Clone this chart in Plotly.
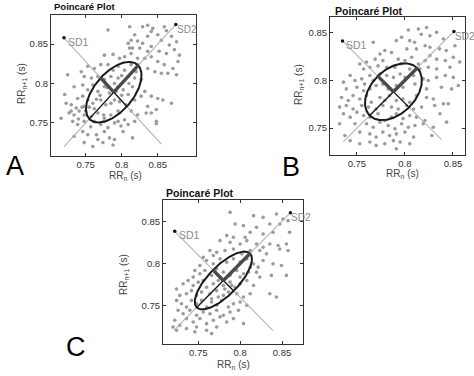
import numpy as np
import plotly.graph_objects as go

W, H = 474, 376
FONT = "Liberation Sans, Arial, sans-serif"

# ---------------- Panel A data (RR_n, RR_n+1 in seconds) ----------------
A_RRn = [0.781,0.811,0.829,0.836,0.843,0.859,0.862,0.841,0.818,0.813,0.822,0.829,0.809,0.836,0.850,0.855,0.866,0.876,0.869,
         0.811,0.815,0.825,0.841,0.836,0.852,0.862,0.873,0.880,
         0.776,0.788,0.797,0.804,0.813,0.822,0.832,0.841,0.850,0.859,0.871,0.878,
         0.753,0.762,0.771,0.781,0.788,0.795,0.804,0.813,0.822,0.836,0.846,0.855,0.864,0.876,
         0.725,0.744,0.748,0.758,0.767,0.776,0.785,0.795,0.809,0.818,0.827,
         0.721,0.734,0.746,0.753,0.760,0.767,0.776,0.783,0.795,0.802,0.809,0.815,0.832,0.841,0.850,0.857,0.869,
         0.739,0.746,0.753,0.760,0.771,0.778,0.790,0.797,0.806,0.818,0.827,0.836,0.848,
         0.730,0.723,0.737,0.748,
         0.716,0.727,0.734,0.741,0.748,0.758,0.767,0.776,0.785,0.795,0.804,0.813,0.822,0.834,0.841,0.848,0.848,
         0.732,0.739,0.748,0.762,0.771,0.781,0.790,0.799,0.809,0.818,
         0.734,0.746,0.753,0.765,0.776,0.783,0.790,0.802,0.815,
         0.748,0.767,0.774,0.788,0.760,
         0.745,0.750,0.755,0.762,0.770,0.780,0.790,0.792,0.785,0.775,0.765,0.800,0.810,0.730,0.740,0.757,0.775,0.795,0.800,0.820]
A_RRn1 = [0.868,0.872,0.872,0.874,0.870,0.872,0.867,0.866,0.862,0.855,0.854,0.851,0.851,0.860,0.862,0.855,0.849,0.853,0.860,
          0.845,0.845,0.845,0.847,0.841,0.841,0.838,0.843,0.836,
          0.836,0.837,0.832,0.834,0.838,0.832,0.832,0.834,0.828,0.824,0.819,0.828,
          0.822,0.819,0.824,0.824,0.817,0.822,0.817,0.824,0.824,0.819,0.815,0.813,0.813,0.811,
          0.811,0.815,0.809,0.807,0.809,0.805,0.809,0.807,0.809,0.807,0.805,
          0.786,0.796,0.798,0.792,0.798,0.790,0.796,0.788,0.796,0.792,0.786,0.796,0.790,0.784,0.781,0.779,0.775,
          0.781,0.784,0.779,0.775,0.779,0.773,0.779,0.777,0.773,0.779,0.784,0.771,0.767,
          0.773,0.775,0.769,0.771,
          0.756,0.7625,0.760,0.765,0.760,0.758,0.7625,0.756,0.760,0.752,0.754,0.765,0.760,0.7625,0.7625,0.752,0.749,
          0.752,0.748,0.752,0.752,0.748,0.744,0.750,0.746,0.748,0.752,
          0.733,0.739,0.735,0.735,0.739,0.731,0.729,0.739,0.731,
          0.725,0.729,0.725,0.722,0.720,
          0.770,0.765,0.770,0.768,0.785,0.795,0.800,0.790,0.775,0.760,0.780,0.810,0.800,0.765,0.755,0.745,0.752,0.765,0.785,0.815]

# ---------------- Panel B data ----------------
B_RRn = [0.8035,0.814,0.8225,0.767,0.791,0.7965,0.805,0.810,0.817,0.826,0.833,0.840,0.821,0.802,0.812,0.826,0.836,0.843,0.852,0.779,
         0.753,0.760,0.769,0.774,0.777,0.786,0.793,0.800,0.807,0.814,0.821,0.826,0.833,0.842,0.8503,0.857,
         0.757,0.7635,0.772,0.781,0.7896,0.7965,0.805,0.8156,0.8243,0.833,0.8468,
         0.736,0.743,0.748,0.755,0.758,0.7635,0.767,0.774,0.781,0.788,0.795,0.800,0.809,0.819,0.8243,0.833,0.842,0.8503,0.8555,
         0.739,0.750,0.757,0.7635,0.770,0.777,0.7826,0.791,0.798,0.8104,0.8225,0.838,0.8486,
         0.734,0.741,0.746,0.753,0.760,0.765,0.774,0.779,0.784,0.791,0.798,0.805,0.812,0.8225,0.8295,0.840,
         0.732,0.739,0.746,0.755,0.762,0.770,0.777,0.786,0.793,0.8017,0.809,0.8173,0.831,0.845,
         0.736,0.743,0.750,0.757,0.7635,0.772,0.779,0.786,0.791,0.798,0.805,0.812,0.8208,0.8364,
         0.732,0.748,0.760,0.767,0.774,0.7826,0.7896,0.7965,0.8035,0.8104,0.819,0.8295,0.8433,
         0.7375,0.753,0.7635,0.770,0.777,0.784,0.791,0.800,0.809,
         0.7635,0.770,0.779,0.788,0.795,0.805,0.753,0.743,0.791,0.828]
B_RRn1 = [0.8524,0.8535,0.855,0.8396,0.8413,0.8448,0.8413,0.8396,0.848,0.8465,0.850,0.843,0.836,0.8327,0.8327,0.8344,0.8327,0.831,0.836,0.831,
          0.817,0.819,0.822,0.8274,0.8205,0.829,0.822,0.8205,0.824,0.817,0.8205,0.8257,0.822,0.8205,0.824,0.819,
          0.8118,0.8135,0.815,0.8135,0.8135,0.817,0.8118,0.8118,0.8135,0.8118,0.8135,
          0.798,0.805,0.7997,0.8014,0.796,0.805,0.7997,0.8066,0.805,0.803,0.8066,0.803,0.805,0.8014,0.7997,0.803,0.805,0.803,0.7945,
          0.791,0.7927,0.789,0.791,0.7945,0.796,0.791,0.7945,0.7927,0.796,0.791,0.7927,0.791,
          0.782,0.7788,0.784,0.7805,0.784,0.777,0.782,0.7788,0.784,0.7788,0.7805,0.777,0.784,0.782,0.7805,0.7754,
          0.772,0.7737,0.770,0.7737,0.772,0.770,0.7737,0.772,0.770,0.7737,0.770,0.772,0.7737,0.7754,
          0.765,0.7615,0.7667,0.7632,0.7615,0.765,0.758,0.7615,0.765,0.760,0.7632,0.7615,0.758,0.765,
          0.7546,0.7546,0.7546,0.751,0.7563,0.7528,0.7493,0.7546,0.751,0.7528,0.7546,0.751,0.7563,
          0.7424,0.7459,0.744,0.7407,0.7459,0.7424,0.744,0.7459,0.7407,
          0.7355,0.732,0.7337,0.737,0.7355,0.7337,0.7337,0.737,0.7285,0.7424]

# ---------------- Panel C data ----------------
C_RRn = [0.788,0.816,0.8274,0.8433,0.8512,0.794,0.804,0.8195,0.8354,0.8473,0.8572,0.859,0.812,0.8274,0.8393,0.784,0.792,0.806,
         0.776,0.788,0.800,0.808,0.8195,0.8274,0.8354,0.8453,0.8552,0.764,0.772,0.782,0.792,0.802,0.812,0.8235,0.8314,0.8473,0.8572,0.756,0.768,
         0.746,0.752,0.760,0.768,0.776,0.784,0.792,0.800,0.808,0.816,0.8215,0.8274,0.8393,0.8493,0.8552,0.8373,0.744,0.752,0.758,0.766,0.772,0.780,0.788,0.796,0.804,0.812,0.8195,
         0.7242,0.732,0.738,0.744,0.750,0.756,0.760,0.768,0.774,0.780,0.788,0.794,0.800,0.808,0.816,0.8235,0.8354,0.8433,0.728,0.736,0.742,0.748,0.754,0.764,0.772,0.780,0.786,0.796,0.804,0.812,
         0.7242,0.730,0.736,0.742,0.748,0.754,0.760,0.766,0.772,0.778,0.786,0.792,0.800,0.808,0.732,0.740,0.748,0.756,0.764,0.772,0.780,0.788,0.798,0.726,
         0.722,0.728,0.736,0.744,0.752,0.760,0.768,0.776,0.784,0.792,0.7242,0.736,0.748,0.760,0.772,0.804,0.720,0.746,0.766,
         0.7817,0.790,0.774,0.766,0.800,0.810]
C_RRn1 = [0.8604,0.8565,0.8545,0.8584,0.8525,0.8467,0.8447,0.8427,0.8467,0.8467,0.8506,0.8369,0.8369,0.8349,0.8369,0.833,0.831,0.831,
          0.827,0.825,0.8231,0.827,0.8231,0.8192,0.8231,0.8212,0.8231,0.8153,0.8133,0.8153,0.8172,0.8114,0.8153,0.8153,0.8114,0.8172,0.8153,0.8075,0.8094,
          0.7918,0.7977,0.8035,0.7996,0.8055,0.8016,0.8055,0.8016,0.8055,0.7996,0.7957,0.8035,0.7996,0.7977,0.786,0.786,0.784,0.7879,0.7918,0.786,0.7937,0.7898,0.786,0.7918,0.7879,0.7957,0.7898,
          0.770,0.776,0.780,0.774,0.778,0.780,0.772,0.776,0.780,0.774,0.778,0.772,0.776,0.780,0.774,0.784,0.7644,0.7604,0.7624,0.7644,0.768,0.7624,0.7663,0.7644,0.768,0.7624,0.7663,0.7644,0.7604,0.7644,
          0.7565,0.7526,0.7487,0.7565,0.7526,0.7565,0.7487,0.7546,0.7507,0.7565,0.7487,0.7526,0.7546,0.7507,0.7408,0.7448,0.7389,0.7428,0.7408,0.7448,0.7389,0.7428,0.7448,0.7448,
          0.733,0.727,0.735,0.731,0.735,0.729,0.733,0.737,0.731,0.735,0.7213,0.7232,0.725,0.7213,0.725,0.729,0.725,0.7193,0.7173,
          0.770,0.774,0.7604,0.7585,0.784,0.7898]

# ---------------- Poincaré descriptors ----------------
CENTERS = [0.789, 0.788, 0.780]          # mean RR (ellipse centre, on identity line)
SD1 = [0.0257, 0.023, 0.0175]
SD2 = [0.048, 0.035, 0.045]
IDENTITY = [(0.720, 0.875), (0.736, 0.851), (0.721, 0.860)]   # identity line extent (end = SD2 label point)
PERP_X = [(0.720, 0.855), (0.735, 0.838), (0.722, 0.839)]     # perpendicular line extent (start = SD1 label point)

X_RANGES = [(0.702, 0.903), (0.722, 0.8625), (0.708, 0.875)]
Y_RANGES = [(0.708, 0.887), (0.722, 0.866), (0.705, 0.875)]
TICKS = [0.75, 0.8, 0.85]
TICK_TEXT = ["0.75", "0.8", "0.85"]
LETTERS = ["A", "B", "C"]
TITLE = "Poincaré Plot"

# layout positions (pixels in the 474x376 canvas)
BOX_PX = [(51, 196, 15, 156), (330, 465, 17, 155), (163, 303, 200, 344)]
TITLE_PX = [(52, 7), (333, 11), (164, 193)]
TITLE_SIZE = [9.5, 10.5, 10.5]
XT_PX = [(125, 176), (402, 174), (233, 365)]
YT_PX = [(22, 84), (299, 85), (124, 275)]
LETTER_PX = [(15, 166), (291, 167), (76, 347)]

data = [(A_RRn, A_RRn1), (B_RRn, B_RRn1), (C_RRn, C_RRn1)]


def px_x(p):
    return p / W


def px_y(p):
    return 1 - p / H


fig = go.Figure()
annotations = []
s2 = np.sqrt(2)

for i in range(3):
    sfx = "" if i == 0 else str(i + 1)
    xa, ya = "x" + sfx, "y" + sfx
    rx, ry = data[i]
    c, d1, d2 = CENTERS[i], SD1[i], SD2[i]

    fig.add_trace(go.Scatter(x=rx, y=ry, mode="markers", xaxis=xa, yaxis=ya,
                             marker=dict(size=3.6, color="#9b9b9b"), hoverinfo="skip", showlegend=False))
    lo, hi = IDENTITY[i]
    fig.add_trace(go.Scatter(x=[lo, hi], y=[lo, hi], mode="lines", xaxis=xa, yaxis=ya,
                             line=dict(color="#b4b4b4", width=1.1), showlegend=False, hoverinfo="skip"))
    p0, p1 = PERP_X[i]
    fig.add_trace(go.Scatter(x=[p0, p1], y=[2 * c - p0, 2 * c - p1], mode="lines", xaxis=xa, yaxis=ya,
                             line=dict(color="#b4b4b4", width=1.1), showlegend=False, hoverinfo="skip"))
    # ellipse
    t = np.linspace(0, 2 * np.pi, 241)
    u, v = d2 * np.cos(t), d1 * np.sin(t)
    fig.add_trace(go.Scatter(x=c + (u - v) / s2, y=c + (u + v) / s2, mode="lines", xaxis=xa, yaxis=ya,
                             line=dict(color="#1a1a1a", width=2), showlegend=False, hoverinfo="skip"))
    a2, a1 = d2 / s2, d1 / s2
    # thin full axes of the ellipse
    fig.add_trace(go.Scatter(x=[c - a2, c + a2, None, c - a1, c + a1],
                             y=[c - a2, c + a2, None, c + a1, c - a1], mode="lines", xaxis=xa, yaxis=ya,
                             line=dict(color="#1a1a1a", width=1.3), showlegend=False, hoverinfo="skip"))
    # thick SD segments
    fig.add_trace(go.Scatter(x=[c, c + a2, None, c, c - a1],
                             y=[c, c + a2, None, c, c + a1], mode="lines", xaxis=xa, yaxis=ya,
                             line=dict(color="#4a4a4a", width=3.4), showlegend=False, hoverinfo="skip"))
    # end dots
    fig.add_trace(go.Scatter(x=[p0, hi], y=[2 * c - p0, hi], mode="markers", xaxis=xa, yaxis=ya,
                             marker=dict(size=3.5, color="#111111"), showlegend=False, hoverinfo="skip"))
    annotations.append(dict(x=p0, y=2 * c - p0, xref=xa, yref=ya, text="SD1", showarrow=False,
                            xanchor="left", yanchor="middle", xshift=2, yshift=-4,
                            font=dict(size=10.5, color="#8a8a8a", family=FONT)))
    annotations.append(dict(x=hi, y=hi, xref=xa, yref=ya, text="SD2", showarrow=False,
                            xanchor="left", yanchor="middle", xshift=-1, yshift=-5,
                            font=dict(size=10, color="#8a8a8a", family=FONT)))

    x0, x1, y0, y1 = BOX_PX[i]
    axis_common = dict(tickvals=TICKS, ticktext=TICK_TEXT, ticks="inside", ticklen=3, tickwidth=1,
                       tickcolor="#333333", showline=True, linecolor="#333333", linewidth=1,
                       mirror="ticks", showgrid=False, zeroline=False,
                       tickfont=dict(size=9.5, color="#333333", family=FONT))
    fig.update_layout(**{
        "xaxis" + sfx: dict(domain=[px_x(x0), px_x(x1)], range=list(X_RANGES[i]), anchor=ya, **axis_common),
        "yaxis" + sfx: dict(domain=[px_y(y1), px_y(y0)], range=list(Y_RANGES[i]), anchor=xa, **axis_common),
    })

    tx, ty = TITLE_PX[i]
    annotations.append(dict(x=px_x(tx), y=px_y(ty), xref="paper", yref="paper", text="<b>" + TITLE + "</b>",
                            showarrow=False, xanchor="left", yanchor="middle",
                            font=dict(size=TITLE_SIZE[i], color="#111111", family=FONT)))
    xx, xy = XT_PX[i]
    annotations.append(dict(x=px_x(xx), y=px_y(xy), xref="paper", yref="paper", text="RR<sub>n</sub> (s)",
                            showarrow=False, xanchor="center", yanchor="middle",
                            font=dict(size=10, color="#444444", family=FONT)))
    yx, yy = YT_PX[i]
    annotations.append(dict(x=px_x(yx), y=px_y(yy), xref="paper", yref="paper", text="RR<sub>n+1</sub> (s)",
                            showarrow=False, xanchor="center", yanchor="middle", textangle=-90,
                            font=dict(size=10, color="#444444", family=FONT)))
    lx, ly = LETTER_PX[i]
    annotations.append(dict(x=px_x(lx), y=px_y(ly), xref="paper", yref="paper", text=LETTERS[i],
                            showarrow=False, xanchor="center", yanchor="middle",
                            font=dict(size=27, color="#000000", family=FONT)))

fig.update_layout(width=W, height=H, autosize=False, margin=dict(l=0, r=0, t=0, b=0),
                  paper_bgcolor="white", plot_bgcolor="white", annotations=annotations,
                  showlegend=False)

fig.write_html("out.html", config={"displayModeBar": False},
               post_script="document.body.style.margin='0';document.body.style.overflow='hidden';")
